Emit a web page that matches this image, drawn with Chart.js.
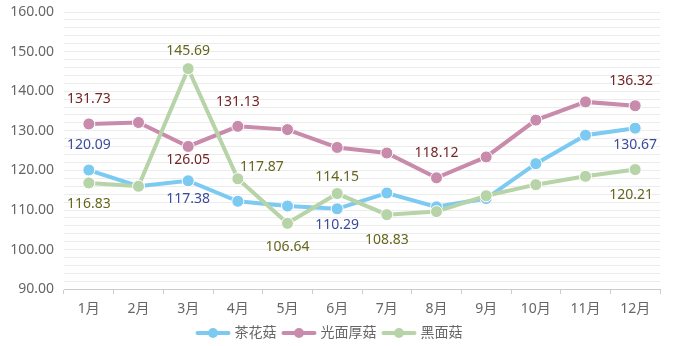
<!DOCTYPE html>
<html lang="zh">
<head>
    <meta charset="UTF-8">
    <title>菇类价格走势</title>
    <script src="https://cdn.jsdelivr.net/npm/chart.js"></script>
    <style>
        body {
            margin: 0;
            padding: 0;
            background: #ffffff;
        }

        .chart-box {
            width: 674px;
            height: 346px;
        }
    </style>
</head>
<body>
    <div class="chart-box">
        <canvas id="priceChart" width="674" height="346"></canvas>
    </div>

    <script>
        // 月份
        const months = ["1月", "2月", "3月", "4月", "5月", "6月", "7月", "8月", "9月", "10月", "11月", "12月"];

        // 各品种月均价
        const chaHuaGu = [120.09, 116.0, 117.38, 112.2, 111.0, 110.29, 114.3, 110.8, 112.9, 121.7, 128.9, 130.67];
        const guangMianHouGu = [131.73, 132.1, 126.05, 131.13, 130.3, 125.8, 124.4, 118.12, 123.4, 132.7, 137.3, 136.32];
        const heiMianGu = [116.83, 116.0, 145.69, 117.87, 106.64, 114.15, 108.83, 109.6, 113.6, 116.4, 118.5, 120.21];

        // Y轴范围
        const yMin = 90;
        const yMax = 160;
        const yStep = 2;
        const yLabelStep = 10;

        // 标注哪些点的数值，以及文字相对点的偏移 [月份序号, dx, dy]
        const chaHuaGuLabels = [[0, 0, -25], [2, 0, 18], [5, 0, 16], [11, 0, 17]];
        const guangMianHouGuLabels = [[0, 0, -25], [2, 0, 14], [3, 0, -24], [7, 0, -25], [11, -4, -25]];
        const heiMianGuLabels = [[0, 0, 21], [2, 0, -18], [3, 24, -12], [4, 0, 24], [5, 0, -17], [6, 0, 25], [11, -4, 25]];

        const FONT = "'Noto Sans', 'Noto Sans CJK SC', sans-serif";
        Chart.defaults.font.family = FONT;
        Chart.defaults.font.size = 14;
        Chart.defaults.color = "#666666";

        const series = [
            { name: "茶花菇", data: chaHuaGu, color: "#7ccaf2", text: "#3b4b9c", labels: chaHuaGuLabels, order: 3 },
            { name: "光面厚菇", data: guangMianHouGu, color: "#c98bac", text: "#722626", labels: guangMianHouGuLabels, order: 2 },
            { name: "黑面菇", data: heiMianGu, color: "#b7d3a8", text: "#66661e", labels: heiMianGuLabels, order: 1 }
        ];

        // 数值标注
        const valueLabels = {
            id: "valueLabels",
            afterDatasetsDraw(chart) {
                const ctx = chart.ctx;
                ctx.save();
                ctx.font = "14px " + FONT;
                ctx.textAlign = "center";
                ctx.textBaseline = "middle";
                chart.data.datasets.forEach((ds, i) => {
                    const meta = chart.getDatasetMeta(i);
                    ctx.fillStyle = series[i].text;
                    series[i].labels.forEach(([idx, dx, dy]) => {
                        const pt = meta.data[idx];
                        ctx.fillText(ds.data[idx].toFixed(2), pt.x + dx, pt.y + dy);
                    });
                });
                ctx.restore();
            }
        };

        // 底部图例：线段 + 圆点 + 名称
        const lineLegend = {
            id: "lineLegend",
            afterDraw(chart) {
                const ctx = chart.ctx;
                ctx.save();
                ctx.font = "14px " + FONT;
                ctx.textBaseline = "middle";
                const iconW = 35, gap = 4, itemGap = 5;
                const widths = series.map(s => iconW + gap + ctx.measureText(s.name).width);
                const total = widths.reduce((a, b) => a + b, 0) + itemGap * (series.length - 1);
                let x = (chart.width - total) / 2 - 8;
                const y = 333;
                series.forEach((s, i) => {
                    ctx.strokeStyle = s.color;
                    ctx.lineWidth = 4;
                    ctx.lineCap = "round";
                    ctx.beginPath();
                    ctx.moveTo(x + 2, y);
                    ctx.lineTo(x + iconW - 2, y);
                    ctx.stroke();
                    ctx.fillStyle = s.color;
                    ctx.beginPath();
                    ctx.arc(x + iconW / 2, y, 5, 0, Math.PI * 2);
                    ctx.fill();
                    ctx.fillStyle = "#666666";
                    ctx.fillText(s.name, x + iconW + gap, y);
                    x += widths[i] + itemGap;
                });
                ctx.restore();
            }
        };

        const ctx = document.getElementById("priceChart").getContext("2d");

        new Chart(ctx, {
            type: "line",
            data: {
                labels: months,
                datasets: series.map(s => ({
                    label: s.name,
                    data: s.data,
                    borderColor: s.color,
                    backgroundColor: s.color,
                    borderWidth: 4,
                    pointRadius: 6,
                    pointBorderColor: "#ffffff",
                    pointBorderWidth: 1,
                    pointBackgroundColor: s.color,
                    tension: 0,
                    order: s.order
                }))
            },
            options: {
                responsive: false,
                animation: false,
                layout: {
                    padding: { top: 12, right: 14, bottom: 23, left: 0 }
                },
                plugins: {
                    legend: { display: false },
                    tooltip: { enabled: false }
                },
                scales: {
                    x: {
                        offset: true,
                        grid: {
                            offset: true,
                            drawOnChartArea: false,
                            drawTicks: true,
                            tickLength: 5,
                            color: "#cccccc"
                        },
                        border: { color: "#cccccc" },
                        ticks: {
                            color: "#666666",
                            font: { size: 14, family: FONT },
                            padding: 6,
                            maxRotation: 0
                        }
                    },
                    y: {
                        min: yMin,
                        max: yMax,
                        afterFit(scale) {
                            scale.width = 64;
                            scale.paddingTop = 0;
                        },
                        border: { display: false },
                        grid: {
                            color: "#ececec",
                            drawTicks: false
                        },
                        ticks: {
                            stepSize: yStep,
                            autoSkip: false,
                            padding: 10,
                            color: "#666666",
                            font: { size: 14, family: FONT },
                            callback: v => (v % yLabelStep === 0 ? v.toFixed(2) : "")
                        }
                    }
                }
            },
            plugins: [valueLabels, lineLegend]
        });
    </script>
</body>
</html>
